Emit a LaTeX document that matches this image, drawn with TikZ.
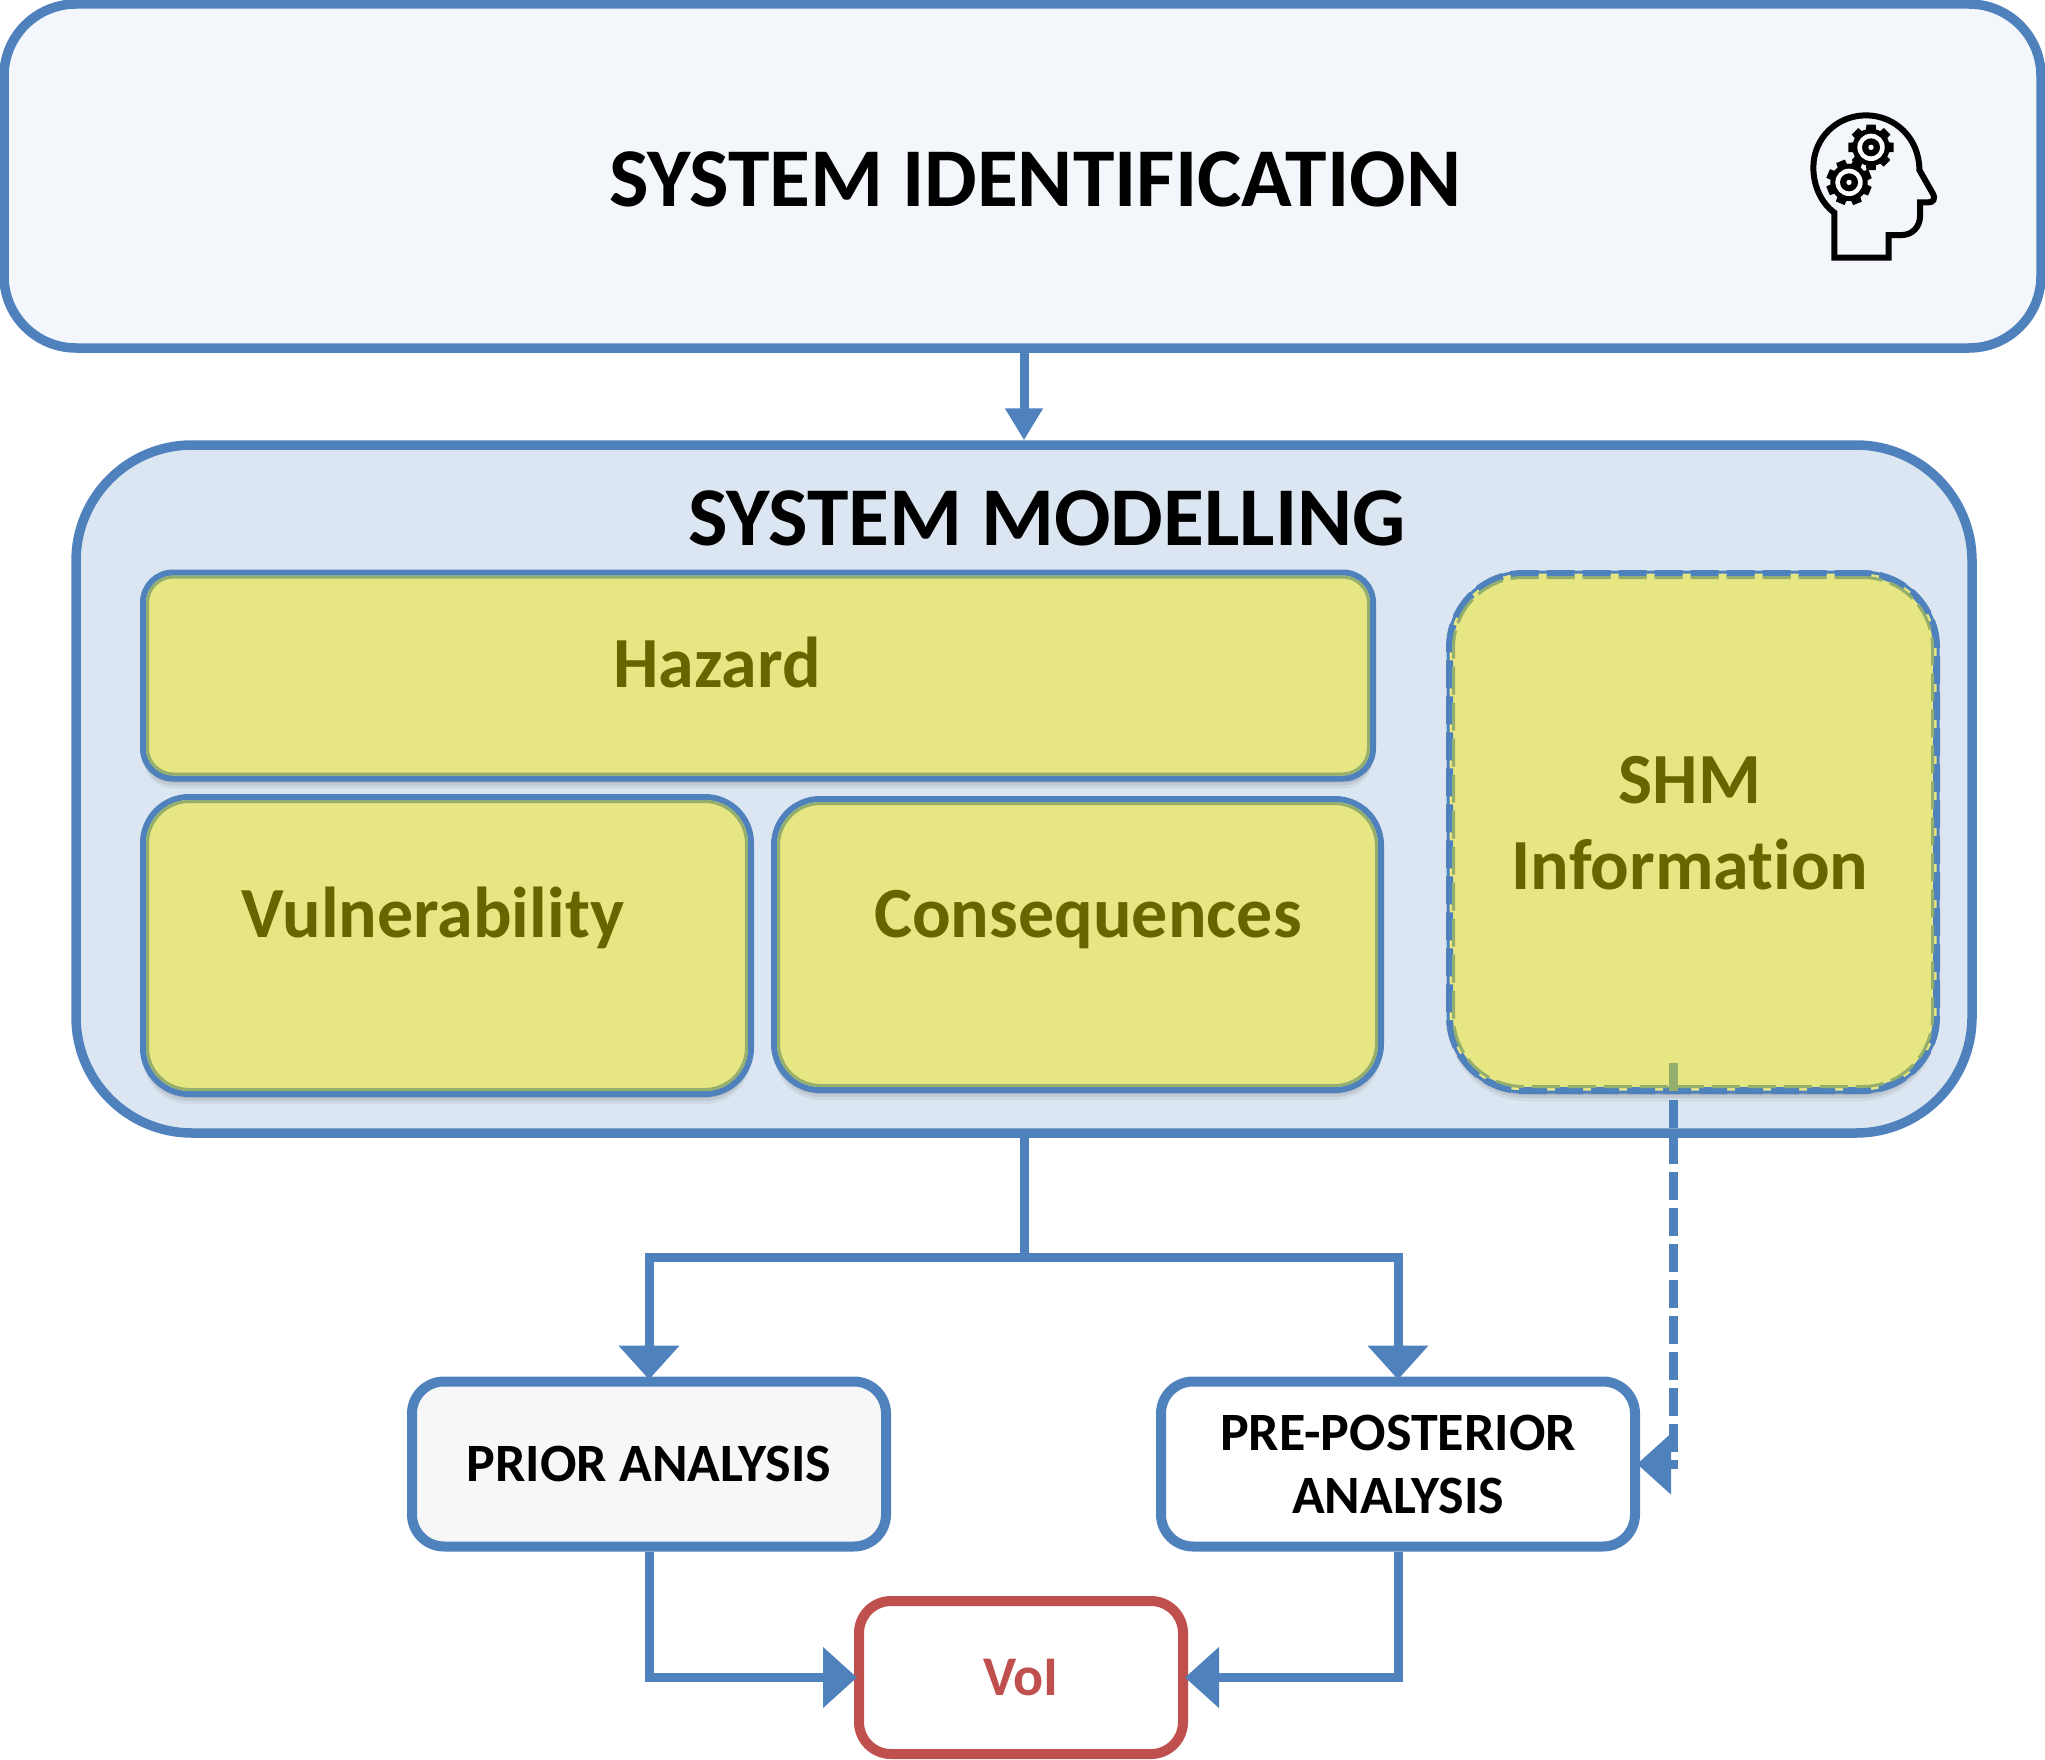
\documentclass[tikz,border=0pt]{standalone}
\usepackage{fontspec}
\setmainfont{Carlito}[Ligatures=NoCommon]
\usetikzlibrary{arrows.meta,shadows,calc}
\definecolor{bl}{HTML}{4F81BD}
\definecolor{yf}{HTML}{E6E682}
\definecolor{gn}{HTML}{94AE6E}
\definecolor{tx}{HTML}{666600}
\definecolor{rd}{HTML}{C0504D}
\definecolor{topf}{HTML}{F3F6FB}
\definecolor{modf}{HTML}{DCE6F2}
\tikzset{
  x=0.5pt,y=-0.5pt,
  bigbox/.style={draw=bl,line width=4.75pt,rounded corners=#1,inner sep=0pt},
  softshadow/.style={
    drop shadow={shadow xshift=0pt,shadow yshift=-5pt,shadow scale=1,fill=black,opacity=.05},
    drop shadow={shadow xshift=0pt,shadow yshift=-3.5pt,shadow scale=1,fill=black,opacity=.07},
    drop shadow={shadow xshift=0pt,shadow yshift=-2pt,shadow scale=1,fill=black,opacity=.09}},
  yellowbox/.style={softshadow,draw=bl,fill=yf,line width=3pt,rounded corners=#1,inner sep=0pt},
  innerline/.style={draw=gn,line width=1.5pt,rounded corners=#1,inner sep=0pt},
  flowbox/.style={draw=bl,line width=5pt,rounded corners=16pt,inner sep=0pt,align=center,
     font=\fontsize{27}{31.5}\selectfont\bfseries,text=black},
  title/.style={font=\fontsize{41.8}{50}\selectfont\bfseries,text=black,inner sep=0pt,anchor=base},
  modlabel/.style={font=\fontsize{36}{43}\selectfont\bfseries,text=tx,inner sep=0pt,align=center},
  conn/.style={draw=bl,line width=4.5pt,shorten >=-1.5pt,-{Triangle[length=17pt,width=29.5pt]}},
  connsmall/.style={draw=bl,line width=4.5pt,-{Triangle[length=16pt,width=18pt]}},
  plainconn/.style={draw=bl,line width=4.5pt,line cap=butt},
}
\begin{document}
\begin{tikzpicture}
\useasboundingbox (0,0) rectangle (2045,1760);
% main containers
\node[bigbox=36pt,fill=topf,minimum width=1018.5pt,minimum height=172pt] (top) at (1022.5,176) {};
\node[title] (toplabel) at (1035,207) {SYSTEM IDENTIFICATION};
\node[bigbox=58pt,fill=modf,minimum width=948pt,minimum height=344pt] (model) at (1024,789) {};
\node[title] (modellabel) at (1047,545) {SYSTEM MODELLING};
% yellow boxes
\node[yellowbox=15pt,minimum width=615pt,minimum height=103pt] (hazard) at (758,675.5) {};
\node[innerline=13pt,minimum width=610.5pt,minimum height=98.5pt] (hazardin) at (758,675.5) {};
\node[modlabel] (hazardlabel) at (717,662) {Hazard};
\node[yellowbox=23pt,minimum width=304pt,minimum height=148.5pt] (vuln) at (447,945.5) {};
\node[innerline=21pt,minimum width=299.5pt,minimum height=144pt] (vulnin) at (447,945.5) {};
\node[modlabel] (vulnlabel) at (433,918) {Vulnerability};
\node[yellowbox=23pt,minimum width=303.5pt,minimum height=145.5pt] (cons) at (1077.5,944.5) {};
\node[innerline=21pt,minimum width=299pt,minimum height=141pt] (consin) at (1077.5,944.5) {};
\node[modlabel] (conslabel) at (1088,920) {Consequences};
% SHM box
\node[softshadow,fill=yf,rounded corners=38pt,inner sep=0pt,minimum width=244pt,minimum height=259pt] (shm) at (1693,832) {};
\node[draw=bl,line width=1.5pt,rounded corners=38pt,inner sep=0pt,minimum width=245pt,minimum height=260pt] (shmedge) at (1693,832) {};
\node[draw=bl,dash pattern=on 14pt off 4pt,line width=3.5pt,rounded corners=37pt,inner sep=0pt,minimum width=243.5pt,minimum height=258.5pt] (shmdash) at (1693,832) {};
\node[draw=gn,dash pattern=on 14pt off 4pt,line width=1.5pt,rounded corners=35pt,inner sep=0pt,minimum width=239.5pt,minimum height=254.5pt] (shmgreen) at (1693,832) {};
\node[modlabel] (shmlabel) at (1690,823) {SHM\\Information};
% analysis boxes
\node[flowbox,fill=black!3,minimum width=237pt,minimum height=82.5pt] (prior) at (649,1464) {PRIOR ANALYSIS};
\node[flowbox,fill=white,minimum width=237pt,minimum height=82.5pt] (pre) at (1398,1464) {PRE-POSTERIOR\\ANALYSIS};
\node[flowbox,draw=rd,text=rd,fill=white,font=\fontsize{28}{32}\selectfont\bfseries,minimum width=162pt,minimum height=76.5pt] (voi) at (1021,1677.5) {VoI};
% connectors
\coordinate (hub) at (1024,1257);
\coordinate (tap) at (1673,1063);
\coordinate (tapout) at (1673,1100);
\draw[connsmall] (model.north |- top.south) -- (model.north);
\draw[plainconn] (model.south) -- (hub);
\draw[conn,line join=miter] (hub) -| (prior.north);
\draw[conn,line join=miter] (hub) -| (pre.north);
\draw[conn] (prior.south) |- (voi.west);
\draw[conn] (pre.south) |- (voi.east);
\draw[draw=gn,line width=4.5pt] (tap) -- (shm.south -| tap);
\draw[conn,dash pattern=on 14pt off 4pt] (tapout) |- (pre.east);
% icon: head with gears
\begin{scope}[shift={(1760,90)},x=0.1667pt,y=-0.1667pt]
  \draw[black,line width=3pt,line join=miter]
    (223,503) -- (223,368)
    .. controls (185,340) and (160,290) .. (160,232)
    .. controls (160,145) and (230,76) .. (318,76)
    .. controls (405,76) and (478,145) .. (478,240)
    -- (518,310)
    .. controls (528,328) and (518,337) .. (505,337)
    -- (480,337) -- (480,378)
    .. controls (480,412) and (455,435) .. (425,435)
    -- (386,435) -- (386,503) -- cycle;
  \foreach \cx/\cy/\ro in {333/172/0,267/277/22}{
    \begin{scope}[shift={(\cx,\cy)}]
      \foreach \a in {0,45,...,315}{
        \fill[black,rotate=\a+\ro] (-14,-68) -- (14,-68) -- (18,0) -- (-18,0) -- cycle;
      }
      \fill[black] (0,0) circle[radius=56];
      \fill[white] (0,0) circle[radius=41];
      \fill[black] (0,0) circle[radius=27];
      \fill[white] (0,0) circle[radius=8];
    \end{scope}
  }
\end{scope}
\end{tikzpicture}
\end{document}
